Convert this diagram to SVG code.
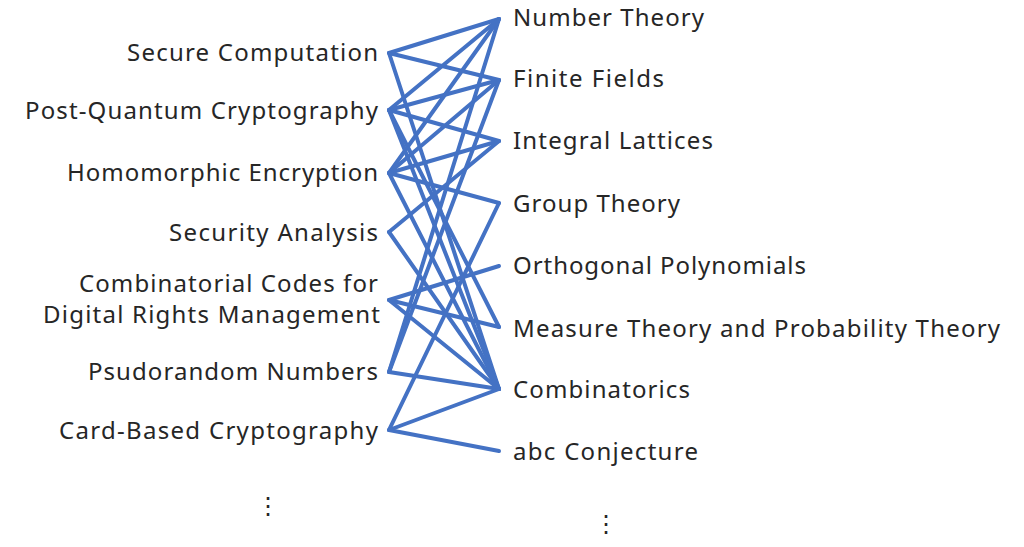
<svg xmlns="http://www.w3.org/2000/svg" width="1024" height="547" viewBox="0 0 1024 547">
<style>
.lbl{font-family:"Noto Sans","Open Sans","DejaVu Sans",sans-serif;font-size:24px;fill:#262626}
.l{text-anchor:end}
.e line{stroke:#4472C4;stroke-width:4;stroke-linecap:round}
</style>
<rect width="1024" height="547" fill="#ffffff"/>
<g id="connectors" class="e">
<line x1="389" y1="53" x2="499" y2="19"/>
<line x1="389" y1="53" x2="499" y2="80"/>
<line x1="389" y1="53" x2="499" y2="389"/>
<line x1="389" y1="110" x2="499" y2="19"/>
<line x1="389" y1="110" x2="499" y2="80"/>
<line x1="389" y1="110" x2="499" y2="141"/>
<line x1="389" y1="110" x2="499" y2="327"/>
<line x1="389" y1="110" x2="499" y2="389"/>
<line x1="389" y1="173" x2="499" y2="19"/>
<line x1="389" y1="173" x2="499" y2="80"/>
<line x1="389" y1="173" x2="499" y2="141"/>
<line x1="389" y1="173" x2="499" y2="203"/>
<line x1="389" y1="173" x2="499" y2="389"/>
<line x1="389" y1="232" x2="499" y2="141"/>
<line x1="389" y1="232" x2="499" y2="389"/>
<line x1="389" y1="300" x2="499" y2="266"/>
<line x1="389" y1="300" x2="499" y2="327"/>
<line x1="389" y1="300" x2="499" y2="389"/>
<line x1="389" y1="372" x2="499" y2="19"/>
<line x1="389" y1="372" x2="499" y2="80"/>
<line x1="389" y1="372" x2="499" y2="389"/>
<line x1="389" y1="430" x2="499" y2="203"/>
<line x1="389" y1="430" x2="499" y2="389"/>
<line x1="389" y1="430" x2="499" y2="451"/>
</g>
<g id="n-secure"><text class="lbl l" x="378" y="61" textLength="251" lengthAdjust="spacing">Secure Computation</text></g>
<g id="n-pq"><text class="lbl l" x="378" y="119" textLength="353" lengthAdjust="spacing">Post-Quantum Cryptography</text></g>
<g id="n-he"><text class="lbl l" x="378" y="181" textLength="311" lengthAdjust="spacing">Homomorphic Encryption</text></g>
<g id="n-sa"><text class="lbl l" x="378" y="241" textLength="209" lengthAdjust="spacing">Security Analysis</text></g>
<g id="n-cc"><text class="lbl l" x="378" y="292" textLength="299" lengthAdjust="spacing">Combinatorial Codes for</text><text class="lbl l" x="380" y="323" textLength="337" lengthAdjust="spacing">Digital Rights Management</text></g>
<g id="n-pn"><text class="lbl l" x="378" y="380" textLength="290" lengthAdjust="spacing">Psudorandom Numbers</text></g>
<g id="n-cb"><text class="lbl l" x="378" y="439" textLength="319" lengthAdjust="spacing">Card-Based Cryptography</text></g>
<g id="n-more-left"><text class="lbl" x="268" y="514" text-anchor="middle" font-family="DejaVu Sans">⋮</text></g>
<g id="n-nt"><text class="lbl" x="513" y="26" textLength="191" lengthAdjust="spacing">Number Theory</text></g>
<g id="n-ff"><text class="lbl" x="513" y="87" textLength="151" lengthAdjust="spacing">Finite Fields</text></g>
<g id="n-il"><text class="lbl" x="513" y="149" textLength="200" lengthAdjust="spacing">Integral Lattices</text></g>
<g id="n-gt"><text class="lbl" x="513" y="212" textLength="167" lengthAdjust="spacing">Group Theory</text></g>
<g id="n-op"><text class="lbl" x="513" y="274" textLength="293" lengthAdjust="spacing">Orthogonal Polynomials</text></g>
<g id="n-mt"><text class="lbl" x="513" y="337" textLength="487" lengthAdjust="spacing">Measure Theory and Probability Theory</text></g>
<g id="n-co"><text class="lbl" x="513" y="398" textLength="177" lengthAdjust="spacing">Combinatorics</text></g>
<g id="n-abc"><text class="lbl" x="513" y="460" textLength="185" lengthAdjust="spacing">abc Conjecture</text></g>
<g id="n-more-right"><text class="lbl" x="606" y="532" text-anchor="middle" font-family="DejaVu Sans">⋮</text></g>
</svg>
